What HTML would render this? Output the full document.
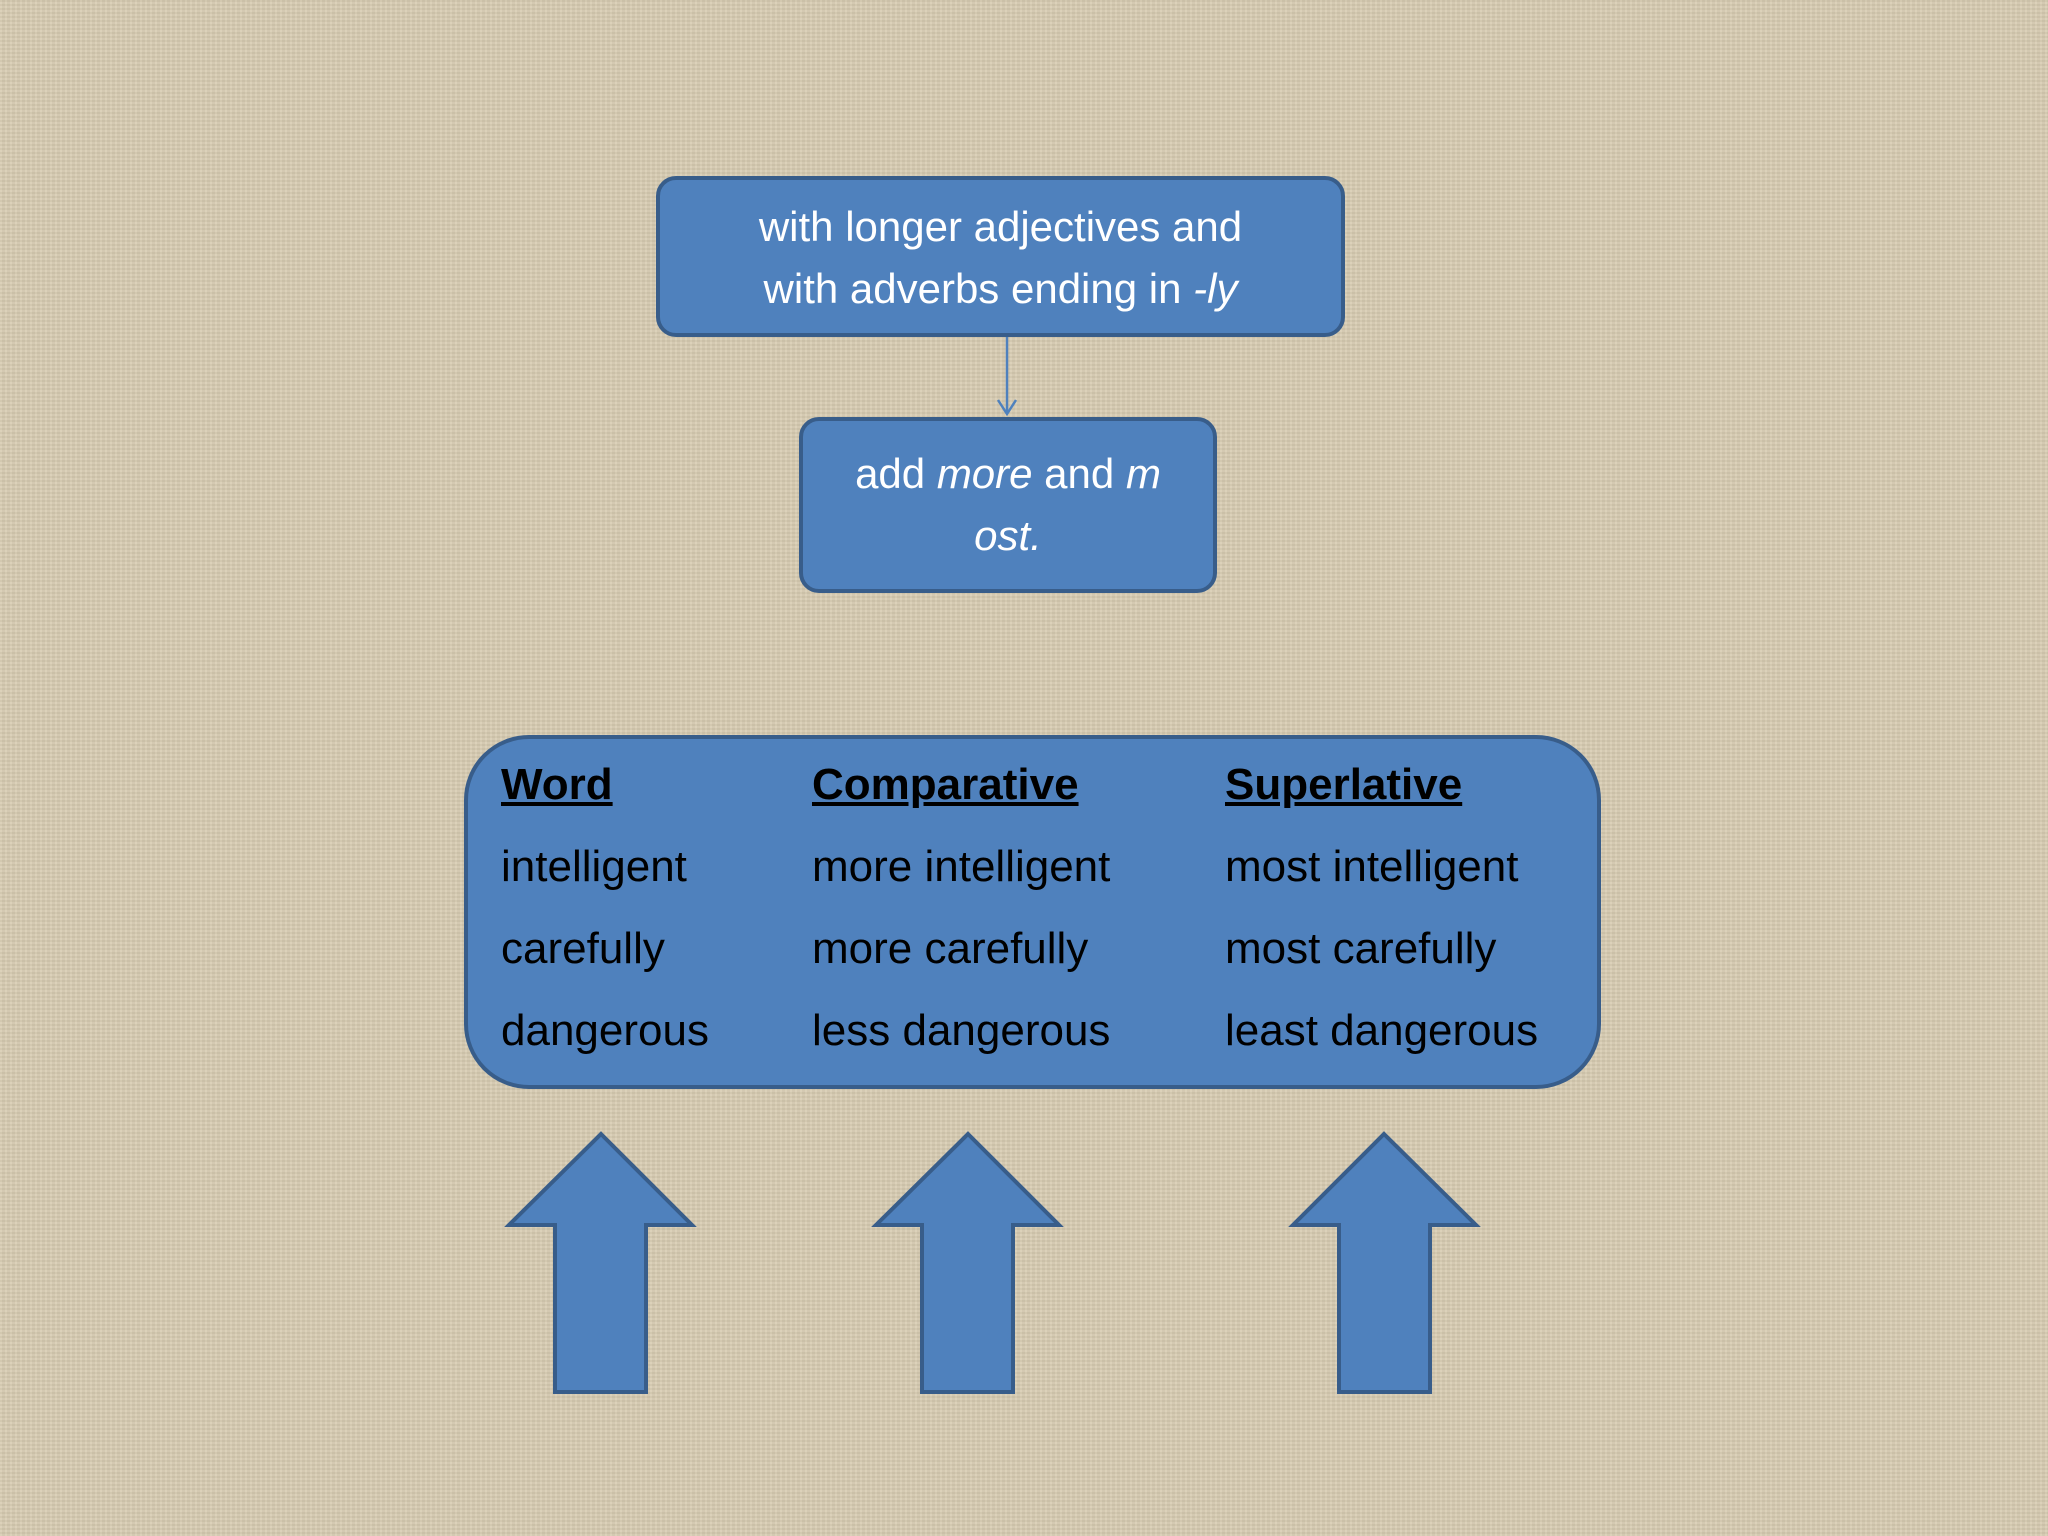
<!DOCTYPE html>
<html><head><meta charset="utf-8"><style>
html,body{margin:0;padding:0}
body{width:2048px;height:1536px;position:relative;overflow:hidden;background:#d8ccb2;font-family:"Liberation Sans",sans-serif;color:#000}
.bg{position:absolute;inset:0;background:
repeating-linear-gradient(0deg,rgba(255,255,255,0.06) 0 2px,rgba(0,0,0,0.03) 2px 4px),
repeating-linear-gradient(90deg,rgba(255,255,255,0.05) 0 2px,rgba(0,0,0,0.03) 2px 5px);}
.box{position:absolute;background:#4f81bd;border:4px solid #385d8a;box-sizing:border-box;color:#fff;text-align:center;font-size:42px;line-height:62px}
.t{position:absolute;font-size:44px;white-space:nowrap}
.h{font-weight:bold;text-decoration:underline}
</style></head><body>
<div class="bg"></div>
<div class="box" style="left:656px;top:176px;width:689px;height:161px;border-radius:20px;padding-top:16px">with longer adjectives and<br>with adverbs ending in <i>-ly</i></div>
<div class="box" style="left:799px;top:417px;width:418px;height:176px;border-radius:20px;padding-top:22px">add <i>more</i> and <i>m</i><br><i>ost.</i></div>
<svg style="position:absolute;left:0;top:0" width="2048" height="1536">
<line x1="1007" y1="337" x2="1007" y2="413" stroke="#4f81bd" stroke-width="2.5"/>
<polyline points="998,400 1007,414 1016,400" fill="none" stroke="#4f81bd" stroke-width="2.5"/>
<g fill="#4f81bd" stroke="#385d8a" stroke-width="4">
<polygon points="601,1134 692,1225 646,1225 646,1392 555,1392 555,1225 509,1225"/>
<polygon points="968,1134 1059,1225 1013,1225 1013,1392 922,1392 922,1225 876,1225"/>
<polygon points="1384,1134 1476,1225 1430,1225 1430,1392 1339,1392 1339,1225 1293,1225"/>
</g>
</svg>
<div class="box" style="left:464px;top:735px;width:1137px;height:354px;border-radius:65px"></div>
<div class="t h" style="left:501px;top:760px">Word</div>
<div class="t h" style="left:812px;top:760px">Comparative</div>
<div class="t h" style="left:1225px;top:760px">Superlative</div>
<div class="t" style="left:501px;top:842px">intelligent</div>
<div class="t" style="left:812px;top:842px">more intelligent</div>
<div class="t" style="left:1225px;top:842px">most intelligent</div>
<div class="t" style="left:501px;top:924px">carefully</div>
<div class="t" style="left:812px;top:924px">more carefully</div>
<div class="t" style="left:1225px;top:924px">most carefully</div>
<div class="t" style="left:501px;top:1006px">dangerous</div>
<div class="t" style="left:812px;top:1006px">less dangerous</div>
<div class="t" style="left:1225px;top:1006px">least dangerous</div>
</body></html>
